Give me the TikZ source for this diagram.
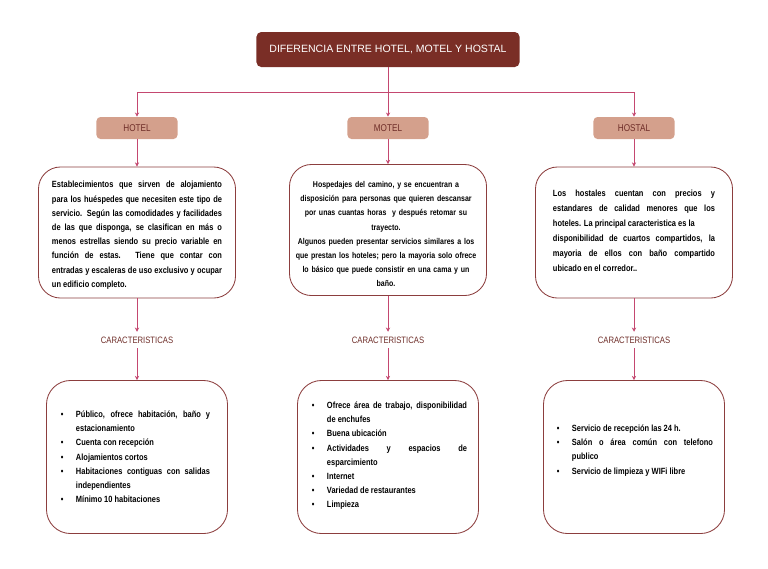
\documentclass[tikz,border=0pt]{standalone}
\usepackage{fontspec}
\usepackage{enumitem}
\usetikzlibrary{arrows.meta}
\setmainfont{Liberation Sans}
\newfontfamily\narrowfont{Liberation Sans}[FakeStretch=0.83]
\definecolor{maroon1}{RGB}{122,46,38}
\definecolor{tan1}{RGB}{212,160,140}
\definecolor{brown1}{RGB}{110,45,40}
\definecolor{rose1}{RGB}{196,72,112}
\definecolor{edge1}{RGB}{140,62,62}
\setlist[itemize]{label=\textbullet, labelindent=0pt, labelwidth=0.125cm, labelsep=0.25cm, leftmargin=!, align=left, nosep}
\tikzset{
titlebox/.style={fill=maroon1, rounded corners=0.12cm, minimum width=6.575cm, minimum height=0.875cm, text=white, font=\fontsize{7.5}{9}\selectfont},
tagbox/.style={fill=tan1, rounded corners=0.1cm, minimum width=2.025cm, minimum height=0.55cm, text=brown1, font=\narrowfont\fontsize{7}{8}\selectfont},
infobox/.style={draw=edge1, line width=0.6pt, rounded corners=0.55cm, minimum width=4.925cm, minimum height=3.275cm},
listbox/.style={draw=edge1, line width=0.6pt, rounded corners=0.6cm, minimum width=4.525cm, minimum height=3.825cm},
bodytext/.style={font=\narrowfont\bfseries\fontsize{6.4}{10.1}\selectfont, inner sep=0pt, anchor=north},
captext/.style={text=brown1, font=\narrowfont\fontsize{6.6}{8}\selectfont},
conn/.style={draw=rose1, line width=0.6pt},
arr/.style={conn, -{Stealth[length=3pt,width=3pt]}}
}

\begin{document}
\begin{tikzpicture}[x=0.025cm, y=-0.025cm]
\useasboundingbox (0,0) rectangle (768,568);
\node[titlebox] (title) at (388,49.5) {DIFERENCIA ENTRE HOTEL, MOTEL Y HOSTAL};
\node[tagbox] (hotel) at (137,128) {HOTEL};
\node[tagbox] (motel) at (388,128) {MOTEL};
\node[tagbox] (hostal) at (634,128) {HOSTAL};
\coordinate (split) at (388,92);
\draw[conn] (title) -- (split);
\draw[arr] (split) -| (hotel);
\draw[arr] (split) -- (motel);
\draw[arr] (split) -| (hostal);

\node[infobox] (hotelinfo) at (137,232.5) {};
\node[infobox] (motelinfo) at (388,230) {};
\node[infobox] (hostalinfo) at (634,232.5) {};
\draw[arr] (hotel) -- (hotelinfo);
\draw[arr] (motel) -- (motelinfo);
\draw[arr] (hostal) -- (hostalinfo);

\node[bodytext, text width=4.25cm, align=justify] (hoteltext) at (137,181) {Establecimientos que sirven de alojamiento\linebreak
para los huéspedes que necesiten este tipo de\linebreak
servicio. Según las comodidades y facilidades\linebreak
de las que disponga, se clasifican en más o\linebreak
menos estrellas siendo su precio variable en\linebreak
función de estas. Tiene que contar con\linebreak
entradas y escaleras de uso exclusivo y ocupar\linebreak
un edificio completo.};
\node[bodytext, text width=5cm, align=center, font=\narrowfont\bfseries\fontsize{6}{10.1}\selectfont] (moteltext) at (386,181) {Hospedajes del camino, y se encuentran a\\
disposición para personas que quieren descansar\\
por unas cuantas horas \ y después retomar su\\
trayecto.\\
Algunos pueden presentar servicios similares a los\\
que prestan los hoteles; pero la mayoria solo ofrece\\
lo básico que puede consistir en una cama y un\\
baño.};
\node[bodytext, text width=4.05cm, align=justify, font=\narrowfont\bfseries\fontsize{6.4}{10.6}\selectfont] (hostaltext) at (634,190) {Los hostales cuentan con precios y\linebreak
estandares de calidad menores que los\linebreak
hoteles. La principal caracteristica es la\\
disponibilidad de cuartos compartidos, la\linebreak
mayoria de ellos con baño compartido\linebreak
ubicado en el corredor..};

\node[captext] (hotelcar) at (137,340) {CARACTERISTICAS};
\node[captext] (motelcar) at (388,340) {CARACTERISTICAS};
\node[captext] (hostalcar) at (634,340) {CARACTERISTICAS};
\draw[arr] (hotelinfo) -- (hotelcar);
\draw[arr] (motelinfo) -- (motelcar);
\draw[arr] (hostalinfo) -- (hostalcar);

\node[listbox] (hotellist) at (137,457) {};
\node[listbox] (motellist) at (388,457) {};
\node[listbox] (hostallist) at (634,457) {};
\draw[arr] (hotelcar) -- (hotellist);
\draw[arr] (motelcar) -- (motellist);
\draw[arr] (hostalcar) -- (hostallist);

\node[bodytext, text width=3.725cm, align=justify] (hotelitems) at (135.5,403) {%
\begin{itemize}
\item Público, ofrece habitación, baño y\linebreak estacionamiento
\item Cuenta con recepción
\item Alojamientos cortos
\item Habitaciones contiguas con salidas\linebreak independientes
\item Mínimo 10 habitaciones
\end{itemize}};
\node[bodytext, text width=3.875cm, align=justify] (motelitems) at (389.5,394) {%
\begin{itemize}
\item Ofrece área de trabajo, disponibilidad\linebreak de enchufes
\item Buena ubicación
\item Actividades y espacios de\linebreak esparcimiento
\item Internet
\item Variedad de restaurantes
\item Limpieza
\end{itemize}};
\node[bodytext, text width=3.9cm, align=justify] (hostalitems) at (635,417) {%
\begin{itemize}
\item Servicio de recepción las 24 h.
\item Salón o área común con telefono\linebreak publico
\item Servicio de limpieza y WIFi libre
\end{itemize}};
\end{tikzpicture}
\end{document}
